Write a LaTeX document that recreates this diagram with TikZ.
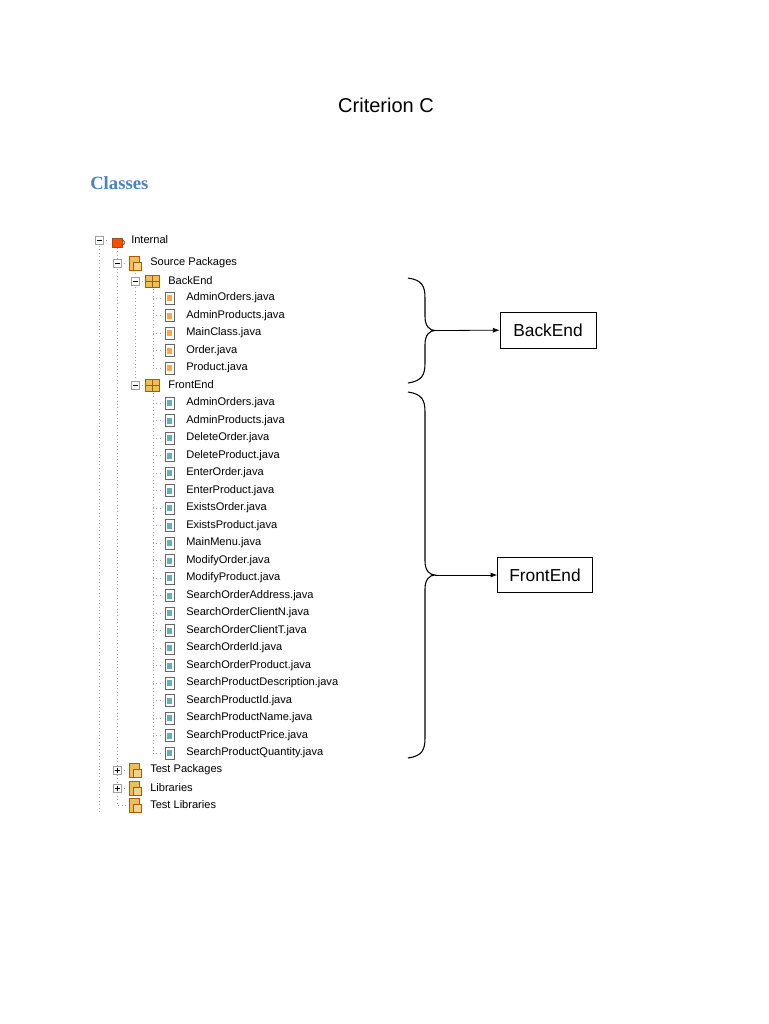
\documentclass[tikz,border=0pt]{standalone}
\usepackage{fontspec}
\setmainfont{Liberation Sans}
\usepackage[dvipsnames]{xcolor}
\usetikzlibrary{arrows.meta}
\definecolor{headblue}{HTML}{4F81BD}
\definecolor{folderyel}{HTML}{E8C060}
\definecolor{treegray}{HTML}{A0A0A0}
\tikzset{
  treetext/.style={anchor=west, inner sep=0pt, font=\fontsize{8.3}{9}\selectfont},
  dots/.style={treegray, dotted, line width=0.6pt},
  expbox/.style={draw=treegray, fill=white, line width=0.4pt, minimum size=6pt, inner sep=0pt},
  labelbox/.style={draw, line width=0.6pt, inner sep=0pt, font=\fontsize{13}{15}\selectfont}
}
% brace opening to the left, tip at the right
\newcommand{\groupbrace}[3]{% top y, bottom y, name of tip
  \coordinate (#3) at (435,{(#1+#2)/2});
  \draw[line width=0.8pt] (408,#1) .. controls (422,#1+2) and (425,#1+8) .. (425,#1+20)
    -- (425,{(#1+#2)/2-14}) .. controls (425,{(#1+#2)/2-4}) and (430,{(#1+#2)/2}) .. (#3)
    .. controls (430,{(#1+#2)/2}) and (425,{(#1+#2)/2+4}) .. (425,{(#1+#2)/2+14})
    -- (425,#2-20) .. controls (425,#2-8) and (422,#2-2) .. (408,#2);
}
\newcommand{\fileicon}[3]{% x, y, colour
  \draw[gray!80!black, fill=white, line width=0.4pt] (#1-5,#2-6) rectangle (#1+4,#2+6);
  \fill[#3] (#1-3,#2-3) rectangle (#1+2,#2+3);
}
\newcommand{\pkgicon}[2]{%
  \filldraw[draw=orange!70!black, fill=folderyel, line width=0.4pt] (#1-7,#2-6) rectangle (#1+7,#2+6);
  \draw[orange!70!black, line width=0.4pt] (#1,#2-6) -- (#1,#2+6) (#1-7,#2) -- (#1+7,#2);
}
\newcommand{\foldericon}[2]{%
  \filldraw[draw=orange!70!black, fill=folderyel, line width=0.4pt] (#1-6,#2-7) rectangle (#1+4,#2+7);
  \filldraw[draw=orange!70!black, fill=folderyel!70, line width=0.4pt] (#1-2,#2-1) rectangle (#1+6,#2+7);
}
\begin{document}
\begin{tikzpicture}[x=0.75pt, y=-0.75pt]
  \useasboundingbox[fill=white] (0,0) rectangle (768,1024);

  % headings
  \node[font=\fontsize{15}{18}\selectfont] (title) at (386,105) {Criterion C};
  \node[anchor=west, inner sep=0pt, text=headblue, font=\fontsize{14}{17}\selectfont\bfseries\fontspec{Liberation Serif}] (classes) at (90,183) {Classes};

  % dotted tree lines
  \draw[dots] (99,246) -- (99,812);
  \draw[dots] (117,248) -- (117,805) -- (126,805);
  \draw[dots] (117,263) -- (125,263);
  \draw[dots] (135,270) -- (135,385);
  \draw[dots] (153,289) -- (153,368);
  \draw[dots] (153,393) -- (153,753);
  \foreach \y in {298,315.5,333,350.5,368} \draw[dots] (153,\y) -- (163,\y);
  \foreach \i in {0,...,20} \draw[dots] (153,403+17.5*\i) -- (163,403+17.5*\i);

  % root
  \draw[dots] (99,240) -- (109,240);
  \node[expbox] (ex-internal) at (99,240) {};
  \draw[line width=0.4pt] (96.5,240) -- (101.5,240);
  \filldraw[draw=brown!70!black, fill=orange!60!red] (112,238) rectangle (122,247);
  \draw[brown!70!black, line width=0.8pt] (122,240) arc[start angle=-90, end angle=90, radius=2.5];
  \node[treetext] (internal) at (131,240) {Internal};

  % source packages
  \node[expbox] (ex-src) at (117,263) {};
  \draw[line width=0.4pt] (114.5,263) -- (119.5,263);
  \foldericon{135}{263}
  \node[treetext] (src) at (150,263) {Source Packages};

  % backend package
  \foreach \y/\nm/\txt in {281/be/BackEnd, 385/fe/FrontEnd}{
    \draw[dots] (135,\y) -- (145,\y);
    \node[expbox] (ex-\nm) at (135,\y) {};
    \draw[line width=0.4pt] (132.5,\y) -- (137.5,\y);
    \pkgicon{152}{\y}
    \node[treetext] (\nm) at (168,\y) {\txt};
  }

  \foreach \y/\nm in {298/AdminOrders, 315.5/AdminProducts, 333/MainClass, 350.5/Order, 368/Product}{
    \fileicon{170}{\y}{orange!70}
    \node[treetext] (be-\nm) at (186,\y) {\nm.java};
  }

  \foreach \nm [count=\i from 0] in {AdminOrders, AdminProducts, DeleteOrder, DeleteProduct, EnterOrder,
      EnterProduct, ExistsOrder, ExistsProduct, MainMenu, ModifyOrder, ModifyProduct,
      SearchOrderAddress, SearchOrderClientN, SearchOrderClientT, SearchOrderId, SearchOrderProduct,
      SearchProductDescription, SearchProductId, SearchProductName, SearchProductPrice, SearchProductQuantity}{
    \fileicon{170}{403+17.5*\i}{teal!60}
    \node[treetext] (fe-\nm) at (186,403+17.5*\i) {\nm.java};
  }

  % remaining folders
  \foreach \y/\nm/\txt in {770/tp/Test Packages, 788/lib/Libraries}{
    \draw[dots] (117,\y) -- (126,\y);
    \node[expbox] (ex-\nm) at (117,\y) {};
    \draw[line width=0.4pt] (114.5,\y) -- (119.5,\y) (117,\y-2.5) -- (117,\y+2.5);
    \foldericon{135}{\y}
    \node[treetext] (\nm) at (150,\y) {\txt};
  }
  \foldericon{135}{805}
  \node[treetext] (tlib) at (150,805) {Test Libraries};

  % braces and labels
  \groupbrace{278}{383}{betip}
  \groupbrace{392}{758}{fetip}
  \node[labelbox, minimum width=72pt, minimum height=27pt] (bebox) at (548,330) {BackEnd};
  \node[labelbox, minimum width=71pt, minimum height=26pt] (febox) at (545,575) {FrontEnd};
  \draw[-{Latex[length=5pt]}, line width=0.6pt] (betip) -- (bebox);
  \draw[-{Latex[length=5pt]}, line width=0.6pt] (fetip) -- (febox);
\end{tikzpicture}
\end{document}
